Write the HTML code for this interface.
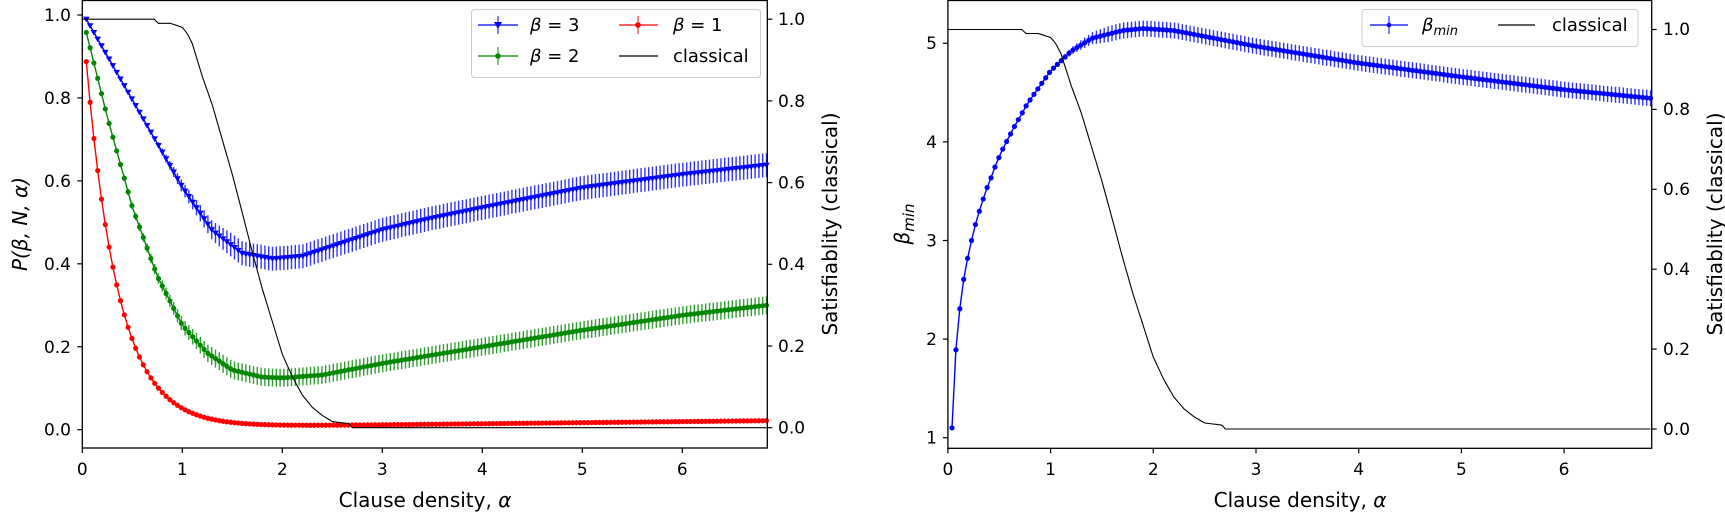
<!DOCTYPE html>
<html><head><meta charset="utf-8"><style>
html,body{margin:0;padding:0;background:#fff;}
svg{display:block;font-family:"DejaVu Sans","Liberation Sans",sans-serif;}
</style></head><body>
<svg id="s" width="1725" height="515" viewBox="0 0 1725 515" xmlns="http://www.w3.org/2000/svg">
<g id="data"></g>
<g fill="none" stroke="#000" stroke-width="1.3">
<rect x="82.3" y="0.5" width="685" height="447.5"/>
<rect x="947.9" y="0.5" width="703.8" height="447.8"/>
</g>
<g id="ticks" stroke="#000" stroke-width="1.2"></g>
<g font-size="17" fill="#000">
<g text-anchor="middle">
<text x="82.3" y="475">0</text><text x="182.3" y="475">1</text><text x="282.3" y="475">2</text><text x="382.3" y="475">3</text><text x="482.3" y="475">4</text><text x="582.3" y="475">5</text><text x="682.3" y="475">6</text>
<text x="947.9" y="475">0</text><text x="1050.6" y="475">1</text><text x="1153.3" y="475">2</text><text x="1256" y="475">3</text><text x="1358.7" y="475">4</text><text x="1461.4" y="475">5</text><text x="1564.1" y="475">6</text>
</g>
<g text-anchor="end">
<text x="71" y="21">1.0</text><text x="71" y="104">0.8</text><text x="71" y="187">0.6</text><text x="71" y="270">0.4</text><text x="71" y="353">0.2</text><text x="71" y="435.5">0.0</text>
<text x="937" y="49">5</text><text x="937" y="148">4</text><text x="937" y="246.5">3</text><text x="937" y="345">2</text><text x="937" y="443.5">1</text>
</g>
<g text-anchor="start">
<text x="778" y="25">1.0</text><text x="778" y="107">0.8</text><text x="778" y="188.5">0.6</text><text x="778" y="270">0.4</text><text x="778" y="352">0.2</text><text x="778" y="433.5">0.0</text>
<text x="1663" y="35">1.0</text><text x="1663" y="115">0.8</text><text x="1663" y="195">0.6</text><text x="1663" y="275">0.4</text><text x="1663" y="355">0.2</text><text x="1663" y="435">0.0</text>
</g>
<g font-size="20">
<text x="425" y="507" text-anchor="middle">Clause density, <tspan font-style="italic">α</tspan></text>
<text x="1300" y="507" text-anchor="middle">Clause density, <tspan font-style="italic">α</tspan></text>
<text transform="translate(27,224) rotate(-90)" text-anchor="middle" font-style="italic">P(β, N, α)</text>
<text transform="translate(909,224) rotate(-90)" text-anchor="middle"><tspan font-style="italic">β</tspan><tspan font-style="italic" font-size="15" dy="5">min</tspan></text>
<text transform="translate(837,224) rotate(-90)" text-anchor="middle">Satisfiablity (classical)</text>
<text transform="translate(1722,224) rotate(-90)" text-anchor="middle">Satisfiablity (classical)</text>
</g>
</g>
<g>
<rect x="471.5" y="9.5" width="289" height="68" rx="3" fill="#fff" fill-opacity="0.8" stroke="#ccc" stroke-width="1"/>
<line x1="478" y1="25" x2="518" y2="25" stroke="#00f" stroke-width="1.3"/><line x1="498" y1="16" x2="498" y2="34" stroke="#00f"/><path d="M494,22 L502,22 L498,29Z" fill="#00f"/>
<line x1="478" y1="56" x2="518" y2="56" stroke="#080" stroke-width="1.3"/><line x1="498" y1="47" x2="498" y2="65" stroke="#080"/><circle cx="498" cy="56" r="2.8" fill="#080"/>
<line x1="619" y1="25" x2="658" y2="25" stroke="#f00" stroke-width="1.3"/><line x1="638" y1="16" x2="638" y2="34" stroke="#f00"/><circle cx="638" cy="25" r="2.8" fill="#f00"/>
<line x1="619" y1="56" x2="658" y2="56" stroke="#000" stroke-width="1.2"/>
<g font-size="18"><text x="530" y="31"><tspan font-style="italic">β</tspan> = 3</text><text x="530" y="62"><tspan font-style="italic">β</tspan> = 2</text>
<text x="673" y="31"><tspan font-style="italic">β</tspan> = 1</text><text x="673" y="62">classical</text></g>
<rect x="1362" y="9.5" width="276" height="37" rx="3" fill="#fff" fill-opacity="0.8" stroke="#ccc" stroke-width="1"/>
<line x1="1370" y1="25" x2="1408" y2="25" stroke="#00f" stroke-width="1.3"/><line x1="1389" y1="16" x2="1389" y2="34" stroke="#00f"/><circle cx="1389" cy="25" r="2.3" fill="#00f"/>
<line x1="1498" y1="25" x2="1535" y2="25" stroke="#000" stroke-width="1.2"/>
<g font-size="18"><text x="1422" y="31"><tspan font-style="italic">β</tspan><tspan font-style="italic" font-size="13" dy="4">min</tspan></text><text x="1552" y="31">classical</text></g>
</g>
</svg>
<script>
(function(){
var NS="http://www.w3.org/2000/svg",D=document.getElementById("data"),T=document.getElementById("ticks");
function el(n,a,p){var e=document.createElementNS(NS,n);for(var k in a)e.setAttribute(k,a[k]);(p||D).appendChild(e);return e;}
function interp(pts,x){if(x<=pts[0][0])return pts[0][1];for(var i=1;i<pts.length;i++){if(x<=pts[i][0]){var a=pts[i-1],b=pts[i],t=(x-a[0])/(b[0]-a[0]);return a[1]+t*(b[1]-a[1]);}}return pts[pts.length-1][1];}
for(var i=0;i<=6;i++){var x=82.3+i*100;el("line",{x1:x,y1:448,x2:x,y2:453},T);}
for(var i=0;i<=5;i++){var y=429.7-i*0.2*414.7;el("line",{x1:82.3,y1:y,x2:77.3,y2:y},T);}
for(var i=0;i<=5;i++){var y=427.7-i*0.2*408.5;el("line",{x1:767.3,y1:y,x2:772.3,y2:y},T);}
for(var i=0;i<=6;i++){var x=947.9+i*102.7;el("line",{x1:x,y1:448.3,x2:x,y2:453.3},T);}
for(var i=1;i<=5;i++){var y=437.7-(i-1)*98.6;el("line",{x1:947.9,y1:y,x2:942.9,y2:y},T);}
for(var i=0;i<=5;i++){var y=429-i*0.2*399.5;el("line",{x1:1651.7,y1:y,x2:1656.7,y2:y},T);}
var cls=[[0,1],[0.72,1],[0.76,0.99],[0.88,0.99],[1,0.98],[1.05,0.965],[1.1,0.94],[1.15,0.9],[1.2,0.86],[1.3,0.79],[1.4,0.705],[1.5,0.62],[1.6,0.526],[1.7,0.43],[1.8,0.34],[1.9,0.26],[2,0.18],[2.1,0.125],[2.2,0.08],[2.3,0.05],[2.4,0.03],[2.5,0.015],[2.6,0.012],[2.67,0.01],[2.7,0],[6.85,0]];
var n=180,dx=6.84/n,A=[];for(var i=1;i<=n;i++)A.push(0.04+(i-1)*dx);
var blue=[[0,1],[0.04,0.99],[1,0.585],[1.3,0.48],[1.6,0.425],[1.9,0.412],[2.2,0.418],[2.6,0.45],[3,0.482],[3.5,0.51],[4,0.535],[5,0.583],[6,0.615],[6.84,0.638]];
var green=[[0.04,0.958],[0.25,0.754],[0.5,0.537],[0.75,0.37],[1,0.252],[1.25,0.185],[1.5,0.144],[1.8,0.127],[2,0.125],[2.4,0.132],[3,0.16],[4,0.2],[5,0.24],[6,0.276],[6.84,0.30]];
var bmin=[[0.04,1.1],[0.077,1.88],[0.115,2.3],[0.153,2.6],[0.19,2.81],[0.23,3.0],[0.27,3.17],[0.31,3.31],[0.35,3.44],[0.39,3.56],[0.43,3.66],[0.46,3.75],[0.5,3.85],[0.54,3.94],[0.58,4.02],[0.62,4.1],[0.66,4.18],[0.7,4.25],[0.77,4.38],[0.85,4.5],[1,4.72],[1.2,4.92],[1.4,5.05],[1.7,5.13],[1.9,5.15],[2.2,5.13],[3,4.97],[4,4.8],[5,4.66],[6,4.53],[6.87,4.44]];
function red(a){return Math.exp(-3.1*a)+0.004+0.0026*a;}
function series(f,X,Y,col,err,mk){
 var d="",bars="";
 A.forEach(function(a,i){var x=X(a),y=Y(f(a));d+=(i?"L":"M")+x.toFixed(1)+","+y.toFixed(1);var e=err(a);if(e>0.5)bars+="M"+x.toFixed(1)+","+(y-e).toFixed(1)+"V"+(y+e).toFixed(1);});
 if(bars)el("path",{d:bars,stroke:col,"stroke-width":1.4,fill:"none","stroke-opacity":0.8});
 el("path",{d:d,stroke:col,"stroke-width":1.4,fill:"none"});
 A.forEach(function(a){var x=X(a),y=Y(f(a));
  if(mk=="tri")el("path",{d:"M"+(x-3.3)+","+(y-2.5)+"L"+(x+3.3)+","+(y-2.5)+"L"+x+","+(y+3.2)+"Z",fill:col});
  else el("circle",{cx:x,cy:y,r:2.6,fill:col});});
}
var LX=function(a){return 82.3+a*100;},LY=function(v){return 429.7-v*414.7;};
var RX=function(a){return 947.9+a*102.7;},RY=function(v){return 437.7-(v-1)*98.6;};
function clsPath(X,y0,sy){var d="";for(var a=0;a<=6.84;a+=0.02){var v=interp(cls,a);d+=(a?"L":"M")+X(a).toFixed(1)+","+(y0-v*sy).toFixed(1);}return d;}
series(red,LX,LY,"#f00",function(a){return 2.5;},"c");
series(function(a){return interp(green,a);},LX,LY,"#080",function(a){return a<0.4?0:Math.min(9,a*7);},"c");
series(function(a){return interp(blue,a);},LX,LY,"#00f",function(a){return a<0.6?0:Math.min(12,(a-0.5)*12);},"tri");
el("path",{d:clsPath(LX,427.7,408.5),stroke:"#000","stroke-width":1.1,fill:"none"});
series(function(a){return interp(bmin,a);},RX,RY,"#00f",function(a){return a<1?0:Math.min(8,(a-0.9)*12);},"c");
el("path",{d:clsPath(RX,429,399.5),stroke:"#000","stroke-width":1.1,fill:"none"});
})();
</script>
</body></html>
